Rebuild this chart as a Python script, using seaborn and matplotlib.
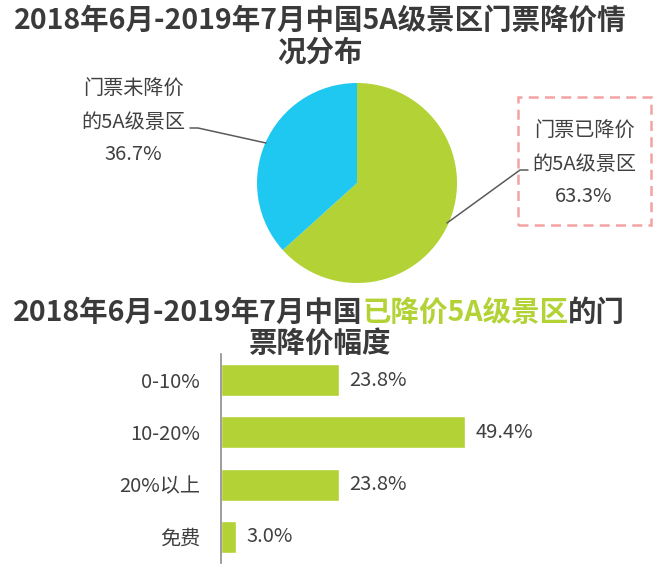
import matplotlib
matplotlib.use("Agg")
import matplotlib.pyplot as plt
import seaborn as sns
import pandas as pd
from matplotlib.lines import Line2D
from matplotlib.patches import Rectangle
from matplotlib.font_manager import FontProperties

# pie data
pie_labels = ["门票已降价\n的5A级景区", "门票未降价\n的5A级景区"]
pie_values = [63.3, 36.7]

# bar data
bar_cats = ["0-10%", "10-20%", "20%以上", "免费"]
bar_values = [23.8, 49.4, 23.8, 3.0]

GREEN = "#B2D235"
BLUE = "#1EC8F0"
DARK = "#404040"
TITLE = "#3A3A3A"
W, H = 666, 577
TSIZE = 20.5


def px(x, y):
    # pixel coords (from top-left) -> figure fraction
    return x / W, 1 - y / H


def multicolor_line(fig, cx, y, parts, size):
    # centre a line made of differently coloured pieces
    r = fig.canvas.get_renderer()
    fp = FontProperties(family=["Noto Sans CJK SC", "DejaVu Sans"], size=size, weight="bold")
    full = "".join(p[0] for p in parts)

    def width(s):
        return r.get_text_width_height_descent(s, fp, ismath=False)[0]

    left = cx - width(full) / 2
    done = ""
    for txt, col in parts:
        x0 = left + width(done)
        fig.text(x0 / W, y, txt, color=col, fontproperties=fp, va="center", ha="left")
        done += txt


def main():
    sns.set_style("white")
    plt.rcParams["font.family"] = ["Noto Sans CJK SC", "DejaVu Sans"]

    fig = plt.figure(figsize=(6.66, 5.77), dpi=100)

    # ---- titles ----
    fig.text(*px(320, 21), "2018年6月-2019年7月中国5A级景区门票降价情", ha="center", va="center",
             fontsize=TSIZE, fontweight="bold", color=TITLE)
    fig.text(*px(320, 53), "况分布", ha="center", va="center",
             fontsize=TSIZE, fontweight="bold", color=TITLE)

    multicolor_line(fig, 319, 1 - 313 / H,
                    [("2018年6月-2019年7月中国", TITLE),
                     ("已降价5A级景区", GREEN),
                     ("的门", TITLE)], TSIZE)
    fig.text(*px(320, 344), "票降价幅度", ha="center", va="center",
             fontsize=TSIZE, fontweight="bold", color=TITLE)

    # ---- pie ----
    axp = fig.add_axes([257 / W, 1 - 283 / H, 200 / W, 200 / H])
    axp.pie(pie_values, colors=[GREEN, BLUE], startangle=90, counterclock=False,
            radius=1, wedgeprops=dict(linewidth=0))
    axp.set_xlim(-1, 1)
    axp.set_ylim(-1, 1)
    axp.set_aspect("equal")
    axp.axis("off")

    fig.text(*px(133, 122), f"{pie_labels[1]}\n{pie_values[1]:.1f}%", ha="center", va="center",
             fontsize=14.5, color=DARK, linespacing=1.7)
    fig.text(*px(584, 164), f"{pie_labels[0]}\n{pie_values[0]:.1f}%", ha="center", va="center",
             fontsize=14.5, color=DARK, linespacing=1.7)

    for xs, ys in [([190, 198, 266], [128, 128, 143]), ([447, 520, 528], [223, 170, 170])]:
        fx = [x / W for x in xs]
        fy = [1 - y / H for y in ys]
        fig.add_artist(Line2D(fx, fy, color="#5A5A5A", lw=1.1, transform=fig.transFigure))

    box = Rectangle(px(518, 225), 133 / W, 128 / H, transform=fig.transFigure,
                    fill=False, edgecolor="#F4A3A3", lw=1.8, linestyle=(0, (4, 2.5)))
    fig.add_artist(box)

    # ---- bars ----
    df = pd.DataFrame({"cat": bar_cats, "val": bar_values})
    axb = fig.add_axes([221 / W, 1 - 563 / H, 400 / W, 209 / H])
    sns.barplot(data=df, x="val", y="cat", color=GREEN, saturation=1, width=0.61,
                ax=axb, orient="h")
    axb.set_xlim(0, 81)
    axb.set_ylim(3.5, -0.5)
    axb.set_xlabel("")
    axb.set_ylabel("")
    axb.set_xticks([])
    for s in ["top", "right", "bottom"]:
        axb.spines[s].set_visible(False)
    axb.spines["left"].set_color("#8C8C8C")
    axb.spines["left"].set_linewidth(1.2)
    axb.tick_params(axis="y", length=0, pad=15, labelsize=14.5, labelcolor=DARK)
    for i, v in enumerate(bar_values):
        axb.text(v + 2.2, i, f"{v:.1f}%", va="center", ha="left", fontsize=14.5, color=DARK)

    fig.savefig("out.png", dpi=100)


if __name__ == "__main__":
    main()
